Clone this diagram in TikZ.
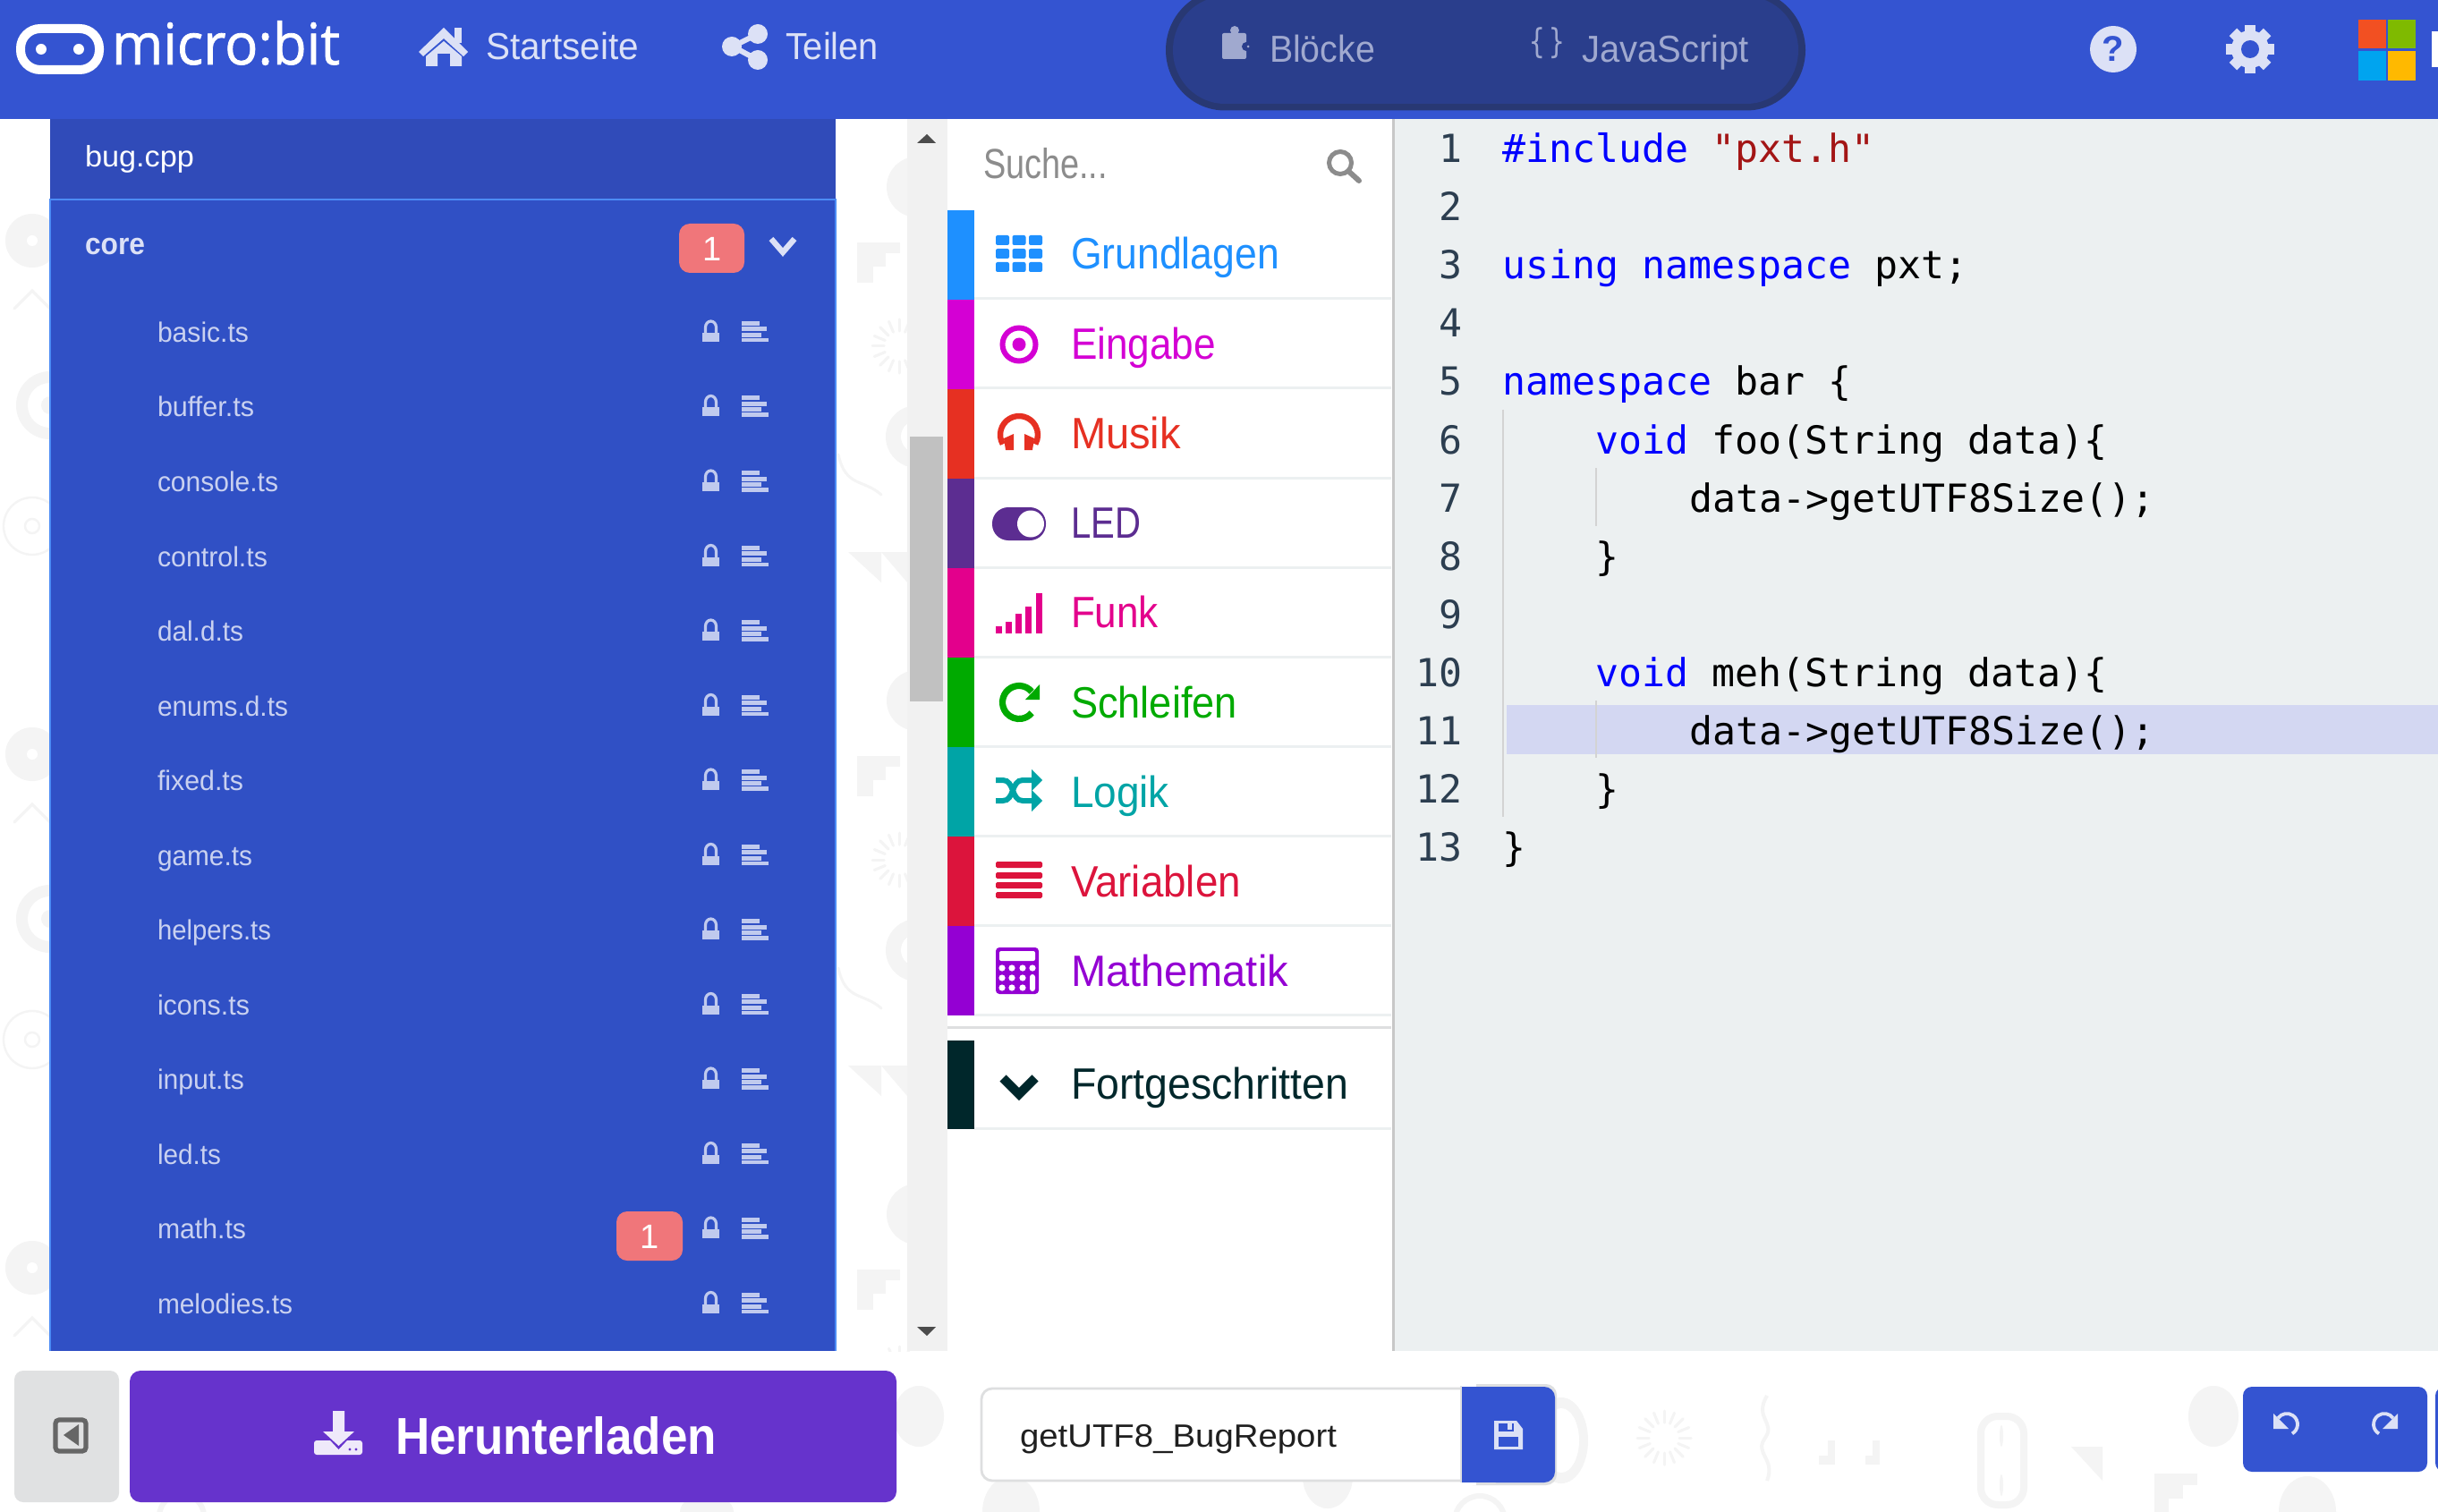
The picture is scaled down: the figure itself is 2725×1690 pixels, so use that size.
\documentclass[tikz,border=0pt]{standalone}
\usepackage{fontspec}
\usepackage{graphicx}
\usetikzlibrary{calc}
\setmainfont{Liberation Sans}
\newfontfamily\codefont{DejaVu Sans Mono}
\newfontfamily\logofont[FakeBold=1.2]{Open Sans}
\definecolor{hdr}{HTML}{3454D1}
\definecolor{fpanel}{HTML}{304BB9}
\definecolor{cpanel}{HTML}{3050C5}
\definecolor{cborder}{HTML}{4C8CF5}
\definecolor{nav}{HTML}{DCE1F6}
\definecolor{ftext}{HTML}{C9D1F0}
\definecolor{ficon}{HTML}{C0CAEE}
\definecolor{badge}{HTML}{F0767A}
\definecolor{editor}{HTML}{ECF0F1}
\definecolor{sep}{HTML}{ECF0F1}
\definecolor{track}{HTML}{F1F1F1}
\definecolor{thumb}{HTML}{C1C1C1}
\definecolor{pillA}{HTML}{2A3E8C}
\definecolor{pillB}{HTML}{283873}
\definecolor{pilltxt}{HTML}{A0A9CF}
\definecolor{cbasic}{HTML}{1E90FF}
\definecolor{cinput}{HTML}{D400D4}
\definecolor{cmusic}{HTML}{E63022}
\definecolor{cled}{HTML}{5C2D91}
\definecolor{cradio}{HTML}{E3008C}
\definecolor{cloop}{HTML}{00AA00}
\definecolor{clogic}{HTML}{00A4A6}
\definecolor{cvar}{HTML}{DC143C}
\definecolor{cmath}{HTML}{9400D3}
\definecolor{cadv}{HTML}{00272B}
\definecolor{lnum}{HTML}{2C3E50}
\definecolor{kw}{HTML}{0000FF}
\definecolor{str}{HTML}{A31515}
\definecolor{hl}{HTML}{D3D7F2}
\definecolor{guide}{HTML}{D3D3D3}
\definecolor{purp}{HTML}{6633CC}
\definecolor{greybtn}{HTML}{E0E1E2}
\definecolor{wm}{HTML}{F4F4F4}
\definecolor{msr}{HTML}{F25022}
\definecolor{msg}{HTML}{7FBA00}
\definecolor{msb}{HTML}{00A4EF}
\definecolor{msy}{HTML}{FFB900}
\definecolor{sugg}{HTML}{8C8C8C}
\definecolor{ibord}{HTML}{DEDFE0}
\definecolor{dlicon}{HTML}{EFE9FA}
\newcommand{\fsz}[1]{\fontsize{#1}{#1}\selectfont}
% set text to a given width in picture pixels, its height kept
\newcommand{\fw}[2]{\resizebox{\dimexpr #1pt/2\relax}{\height}{#2}}
\tikzset{
  lbl/.style={anchor=base west,inner sep=0pt,outer sep=0pt},
  navtxt/.style={lbl,text=nav,font=\fsz{21}},
  filetxt/.style={lbl,text=ftext,font=\fsz{15.6}},
  cattxt/.style={lbl,font=\fsz{24.5}},
  codetxt/.style={lbl,font=\codefont\fsz{21.6}},
  numtxt/.style={anchor=base east,inner sep=0pt,outer sep=0pt,text=lnum,font=\codefont\fsz{21.6}},
  sepline/.style={sep,line width=1.5pt},
  badgebox/.style={fill=badge,rounded corners=6pt},
  onetxt/.style={inner sep=0pt,outer sep=0pt,text=white,font=\fsz{19}},
  wmk/.style={fill=wm,draw=none},
  wml/.style={wm,line width=1.5pt,line cap=round},
  guideline/.style={guide,line width=0.6pt},
}
\newcommand{\filerow}[4]{%
  \node[filetxt] (#1) at (176,#2+1.5) {\fw{#3}{#4}};
  \fill[ficon] (785,#2-9) rectangle (804,#2+1);
  \draw[ficon,line width=1.6pt] (788.5,#2-8) -- (788.5,#2-15) arc (180:360:6 and 7) -- (800.5,#2-8);
  \fill[ficon] (829,#2-22) rectangle (849,#2-17);
  \fill[ficon] (829,#2-15.5) rectangle (857,#2-10.5);
  \fill[ficon] (829,#2-9) rectangle (851,#2-4);
  \fill[ficon] (829,#2-3) rectangle (859,#2+1.5);
}
\newcommand{\catrow}[6]{% name, top y, color, baseline, width, text
  \fill[#3] (1059,#2) rectangle (1089,#2+100);
  \draw[sepline] (1089,#2+99) -- (1555,#2+99);
  \node[cattxt,text=#3] (#1) at (1197,#4+1) {\fw{#5}{#6}};
}
\newcommand{\sunburst}[2]{%
  \foreach \a in {0,22.5,...,337.5}{\draw[wml] ($(#1,#2)+(\a:17)$) -- ($(#1,#2)+(\a:30)$);}
}
\begin{document}
\begin{tikzpicture}[x=0.5pt,y=-0.5pt]
\useasboundingbox (0,0) rectangle (2725,1690);
\fill[white] (0,0) rectangle (2725,1690);
% faint background pattern
\begin{scope}
\clip (0,133) rectangle (1100,1510);
\foreach \yo in {0,574,1148}{
  \begin{scope}[yshift=-0.5*\yo]
  \fill[wmk] (36,269) circle (30);
  \fill[white] (36,269) circle (6);
  \draw[wml] (16,345) -- (36,325) -- (56,345);
  \fill[wmk] (56,453) circle (38);
  \fill[white] (56,453) circle (25);
  \fill[wmk] (56,453) circle (10);
  \draw[wm,line width=1.2pt] (36,588) circle (32);
  \draw[wm,line width=1.2pt] (36,588) circle (8);
  \fill[wmk] (1025,209) circle (34);
  \fill[wmk] (958,271) rectangle (1006,283);
  \fill[wmk] (958,283) rectangle (990,298);
  \fill[wmk] (958,298) rectangle (976,316);
  \sunburst{1005}{387}
  \fill[wmk] (1025,488) circle (35);
  \fill[white] (1025,488) circle (18);
  \draw[wml] (937,508) .. controls (945,545) and (965,535) .. (985,553);
  \fill[wmk] (948,617) -- (985,617) -- (985,651) -- cycle;
  \fill[wmk] (985,617) -- (1014,617) -- (1014,651) -- cycle;
  \end{scope}
}
\end{scope}
\fill[wmk] (1027,1583) ellipse (28 and 34);
\fill[wmk] (1130,1690) ellipse (32 and 40);
\fill[wmk] (1484,1650) ellipse (28 and 36);
\draw[wm,line width=3pt] (1654,1700) circle (28);
\fill[wmk] (1745,1610) ellipse (30 and 48);
\fill[white] (1745,1610) ellipse (20 and 36);
\sunburst{1860}{1607}
\draw[wm,line width=2pt] (1975,1560) .. controls (1960,1585) and (1985,1590) .. (1973,1607) .. controls (1960,1625) and (1985,1630) .. (1975,1655);
\fill[wmk] (2043,1610) rectangle (2051,1637);
\fill[wmk] (2033,1627) rectangle (2051,1637);
\fill[wmk] (2093,1610) rectangle (2101,1637);
\fill[wmk] (2085,1627) rectangle (2101,1637);
\draw[wm,line width=4pt,rounded corners=9.5pt] (2214,1583) rectangle (2262,1682);
\fill[wmk] (2237,1605) ellipse (2 and 12);
\fill[wmk] (2237,1660) ellipse (2 and 12);
\fill[wmk] (2315,1617) -- (2350,1617) -- (2350,1655) -- cycle;
\fill[wmk] (2408,1647) rectangle (2456,1660);
\fill[wmk] (2408,1660) rectangle (2440,1675);
\fill[wmk] (2408,1675) rectangle (2424,1690);
\fill[wmk] (2474,1583) ellipse (28 and 34);
\fill[wmk] (2579,1690) ellipse (32 and 40);
\fill[wmk] (790,1690) ellipse (30 and 20);
\draw[wm,line width=3pt] (203,1695) circle (25);
% header
\fill[hdr] (0,0) rectangle (2725,133);
\draw[white,line width=5pt,rounded corners=11pt] (23,32) rectangle (111,78);
\fill[white] (46,55) circle (6);
\fill[white] (88,55) circle (6);
\node[lbl,text=white,font=\logofont\fsz{32}] (logo) at (125,72) {\fw{255}{micro:bit}};
\fill[nav] (496,31) -- (523,58) -- (518,63) -- (496,43) -- (473,63) -- (468,58) -- cycle;
\fill[nav] (508,31) rectangle (516,48);
\fill[nav] (476,63) -- (496,46) -- (516,63) -- (516,74) -- (503,74) -- (503,60) -- (489,60) -- (489,74) -- (476,74) -- cycle;
\node[navtxt] (home) at (543,67) {\fw{171}{Startseite}};
\draw[nav,line width=3pt] (847,38) -- (819,52) -- (847,67);
\fill[nav] (847,38) circle (11);
\fill[nav] (818,52) circle (11);
\fill[nav] (847,67) circle (11);
\node[navtxt] (share) at (878,67) {\fw{104}{Teilen}};
% Blocks / JavaScript switch
\fill[pillB] (1369,-11.5) arc (270:90:66 and 67.5) -- (1952,123.5) arc (90:-90:66 and 67.5) -- cycle;
\fill[pillA] (1369,-4) arc (270:90:58 and 60) -- (1952,116) arc (90:-90:58 and 60) -- cycle;
\fill[pilltxt,rounded corners=1pt] (1366,37) rectangle (1393,66);
\fill[pilltxt] (1380,34) circle (5);
\fill[pillA] (1393,52) circle (5);
\fill[pilltxt] (1395,52) circle (1.5);
\node[navtxt,text=pilltxt] (blocks) at (1419,70) {\fw{118}{Blöcke}};
\node[lbl,text=pilltxt,font=\codefont\fsz{19}] (brace) at (1709,60) {\fw{40}{\{\,\}}};
\node[navtxt,text=pilltxt] (js) at (1768,70) {\fw{187}{JavaScript}};
% help and settings
\fill[nav] (2362,55) circle (26);
\node[inner sep=0pt,text=hdr,font=\bfseries\fsz{20}] (help) at (2362,55) {?};
\foreach \a in {0,45,...,315}{\fill[nav,rotate around={\a:(2515,55)}] (2509,28) rectangle (2521,42);}
\fill[nav] (2515,55) circle (21);
\fill[hdr] (2515,55) circle (10);
% Microsoft logo
\fill[msr] (2636,22) rectangle (2667,54);
\fill[msg] (2669,22) rectangle (2700,54);
\fill[msb] (2636,57) rectangle (2667,90);
\fill[msy] (2669,57) rectangle (2700,90);
\fill[white] (2718,35) rectangle (2725,75);
% file explorer
\fill[fpanel] (56,133) rectangle (934,222);
\node[lbl,text=white,font=\fsz{16.5}] (bug) at (95,187) {\fw{122}{bug.cpp}};
\fill[cpanel] (56,222) rectangle (934,1510);
\draw[cborder,line width=1pt] (56,1510) -- (56,223) -- (934,223) -- (934,1510);
\node[lbl,text=nav,font=\bfseries\fsz{17}] (core) at (95,285) {\fw{67}{core}};
\fill[badgebox] (759,250) rectangle (832,305);
\node[onetxt] (b1) at (796,278) {1};
\draw[nav,line width=3.2pt] (862,267) -- (875,282) -- (888,267);
\filerow{f1}{381}{102}{basic.ts}
\filerow{f2}{464.5}{108}{buffer.ts}
\filerow{f3}{548}{135}{console.ts}
\filerow{f4}{631.5}{123}{control.ts}
\filerow{f5}{715}{96}{dal.d.ts}
\filerow{f6}{798.5}{146}{enums.d.ts}
\filerow{f7}{882}{96}{fixed.ts}
\filerow{f8}{965.5}{106}{game.ts}
\filerow{f9}{1049}{127}{helpers.ts}
\filerow{f10}{1132.5}{103}{icons.ts}
\filerow{f11}{1216}{97}{input.ts}
\filerow{f12}{1299.5}{71}{led.ts}
\filerow{f13}{1383}{99}{math.ts}
\filerow{f14}{1466.5}{151}{melodies.ts}
\fill[badgebox] (689,1354) rectangle (763,1409);
\node[onetxt] (b2) at (726,1382) {1};
% scrollbar
\fill[track] (1014,133) rectangle (1059,1510);
\fill[thumb] (1017,488) rectangle (1054,784);
\fill[black!70] (1025,160) -- (1036,150) -- (1046,160) -- cycle;
\fill[black!70] (1025,1483) -- (1036,1493) -- (1046,1483) -- cycle;
% toolbox
\fill[white] (1059,133) rectangle (1556,1510);
\node[lbl,text=sugg,font=\fsz{23.5}] (search) at (1099,200) {\fw{139}{Suche...}};
\draw[sugg,line width=2.5pt] (1498,182) circle (12.5);
\draw[sugg,line width=3pt,line cap=round] (1508,192) -- (1519,202);
\catrow{c1}{235}{cbasic}{300}{233}{Grundlagen}
\catrow{c2}{335}{cinput}{400}{162}{Eingabe}
\catrow{c3}{435}{cmusic}{500}{123}{Musik}
\catrow{c4}{535}{cled}{600}{78}{LED}
\catrow{c5}{635}{cradio}{700}{98}{Funk}
\catrow{c6}{735}{cloop}{801}{186}{Schleifen}
\catrow{c7}{835}{clogic}{901}{110}{Logik}
\catrow{c8}{935}{cvar}{1001}{190}{Variablen}
\catrow{c9}{1035}{cmath}{1101}{243}{Mathematik}
\draw[ibord,line width=1.5pt] (1059,1148) -- (1555,1148);
\fill[cadv] (1059,1163) rectangle (1089,1262);
\draw[sepline] (1089,1261) -- (1555,1261);
\node[cattxt,text=cadv] (c10) at (1197,1228) {\fw{310}{Fortgeschritten}};
% toolbox icons
\foreach \cx in {1113,1131.5,1150}{\foreach \cy in {263,278,293}{\fill[cbasic,rounded corners=1pt] (\cx,\cy) rectangle (\cx+15,\cy+11);}}
\draw[cinput,line width=3pt] (1139,385) circle (18.5);
\fill[cinput] (1139,385) circle (7.5);
\draw[cmusic,line width=3.2pt] ($(1139,486)+(150:21)$) arc (150:390:21);
\fill[cmusic] (1122,490) -- (1133,485) -- (1133,503) -- (1124,503) -- cycle;
\fill[cmusic] (1156,490) -- (1145,485) -- (1145,503) -- (1154,503) -- cycle;
\fill[cled,rounded corners=9pt] (1109,567) rectangle (1169,604);
\fill[white] (1152,585.5) circle (15);
\fill[cradio] (1113,700) rectangle (1120,708);
\fill[cradio] (1124,695) rectangle (1131,708);
\fill[cradio] (1135,686) rectangle (1142,708);
\fill[cradio] (1146,678) rectangle (1153,708);
\fill[cradio] (1158,663) rectangle (1165,708);
\draw[cloop,line width=3.6pt] ($(1139,785)+(320:18.5)$) arc (320:40:18.5);
\fill[cloop] (1162,765) -- (1162,782) -- (1146,782) -- cycle;
\draw[clogic,line width=3pt] (1113,872) -- (1121,872) .. controls (1134,872) and (1130,895) .. (1143,895) -- (1155,895);
\draw[clogic,line width=3pt] (1113,895) -- (1121,895) .. controls (1134,895) and (1130,872) .. (1143,872) -- (1155,872);
\fill[clogic] (1153,860) -- (1165,872) -- (1153,884) -- cycle;
\fill[clogic] (1153,883) -- (1165,895) -- (1153,907) -- cycle;
\foreach \vy in {963,975,986,997}{\fill[cvar,rounded corners=0.8pt] (1113,\vy) rectangle (1165,\vy+7);}
\fill[cmath,rounded corners=2pt] (1113,1059) rectangle (1161,1111);
\fill[white,rounded corners=1pt] (1117,1063) rectangle (1157,1074);
\foreach \cx in {1120,1131,1143}{\foreach \cy in {1082,1093,1104}{\fill[white] (\cx,\cy) circle (3.6);}}
\fill[white] (1154,1082) circle (3.6);
\fill[white,rounded corners=1.5pt] (1151,1089) rectangle (1157,1108);
\draw[cadv,line width=5pt] (1121,1205) -- (1139,1223) -- (1157,1205);
% editor
\fill[editor] (1556,133) rectangle (2725,1510);
\fill[black!22] (1556,133) rectangle (1559,1510);
\fill[hl] (1684,788) rectangle (2725,843);
\draw[guideline] (1680,458) -- (1680,913);
\draw[guideline] (1784,523) -- (1784,588);
\draw[guideline] (1784,783) -- (1784,847);
\foreach \n [count=\i from 0] in {1,...,13}{
  \node[numtxt] (n\n) at (1634,182+65*\i) {\n};
}
\node[codetxt] (l1) at (1679,182) {\textcolor{kw}{\#include} \textcolor{str}{"pxt.h"}};
\node[codetxt] (l3) at (1679,312) {\textcolor{kw}{using} \textcolor{kw}{namespace} pxt;};
\node[codetxt] (l5) at (1679,442) {\textcolor{kw}{namespace} bar \{};
\node[codetxt] (l6) at (1783,507) {\textcolor{kw}{void} foo(String data)\{};
\node[codetxt] (l7) at (1888,572) {data->getUTF8Size();};
\node[codetxt] (l8) at (1783,637) {\}};
\node[codetxt] (l10) at (1783,767) {\textcolor{kw}{void} meh(String data)\{};
\node[codetxt] (l11) at (1888,832) {data->getUTF8Size();};
\node[codetxt] (l12) at (1783,897) {\}};
\node[codetxt] (l13) at (1679,962) {\}};
% bottom bar
\fill[greybtn,rounded corners=5pt] (16,1532) rectangle (133,1679);
\draw[black!60,line width=2.6pt,rounded corners=2pt] (62,1587) rectangle (96,1622);
\fill[black!60] (88,1592) -- (88,1616) -- (71,1604) -- cycle;
\fill[purp,rounded corners=6pt] (145,1532) rectangle (1002,1679);
\fill[dlicon,rounded corners=1.5pt] (351,1610) rectangle (405,1626);
\fill[purp] (358,1598) -- (399,1598) -- (378.5,1620) -- cycle;
\fill[dlicon] (372,1577) -- (385,1577) -- (385,1600) -- (396,1600) -- (378.5,1616) -- (361,1600) -- (372,1600) -- cycle;
\fill[purp] (391,1620) circle (1.6);
\fill[purp] (398,1620) circle (1.6);
\node[lbl,text=white,font=\bfseries\fsz{29}] (dl) at (442,1625) {\fw{359}{Herunterladen}};
% project name
\fill[ibord,rounded corners=6pt] (1634,1547) rectangle (1740,1660);
\draw[ibord,fill=white,line width=1.4pt,rounded corners=6pt] (1097,1552) rectangle (1660,1655);
\fill[white] (1634,1547) rectangle (1650,1660);
\fill[hdr,rounded corners=6pt] (1660,1550) rectangle (1738,1657);
\fill[hdr] (1634,1550) rectangle (1675,1657);
\fill[ibord] (1632,1549) rectangle (1634,1657);
\node[lbl,text=black!88,font=\fsz{18}] (name) at (1140,1617) {\fw{354}{getUTF8\_BugReport}};
\fill[nav] (1670,1588) -- (1695,1588) -- (1702,1597) -- (1702,1620) -- (1670,1620) -- cycle;
\fill[hdr] (1675,1591) rectangle (1692,1600);
\fill[nav] (1685,1591) rectangle (1690,1598);
\fill[hdr] (1675,1606) rectangle (1697,1617);
% undo and redo
\fill[hdr,rounded corners=5pt] (2507,1550) rectangle (2713,1645);
\fill[hdr,rounded corners=5pt] (2722,1550) rectangle (2745,1645);
\draw[nav,line width=1.9pt] ($(2556,1592)+(215:12)$) arc (215:420:12);
\fill[nav] (2541,1580) -- (2541,1597) -- (2558,1597) -- cycle;
\draw[nav,line width=1.9pt] ($(2665,1592)+(325:12)$) arc (325:120:12);
\fill[nav] (2680,1580) -- (2680,1597) -- (2663,1597) -- cycle;
\end{tikzpicture}
\end{document}
